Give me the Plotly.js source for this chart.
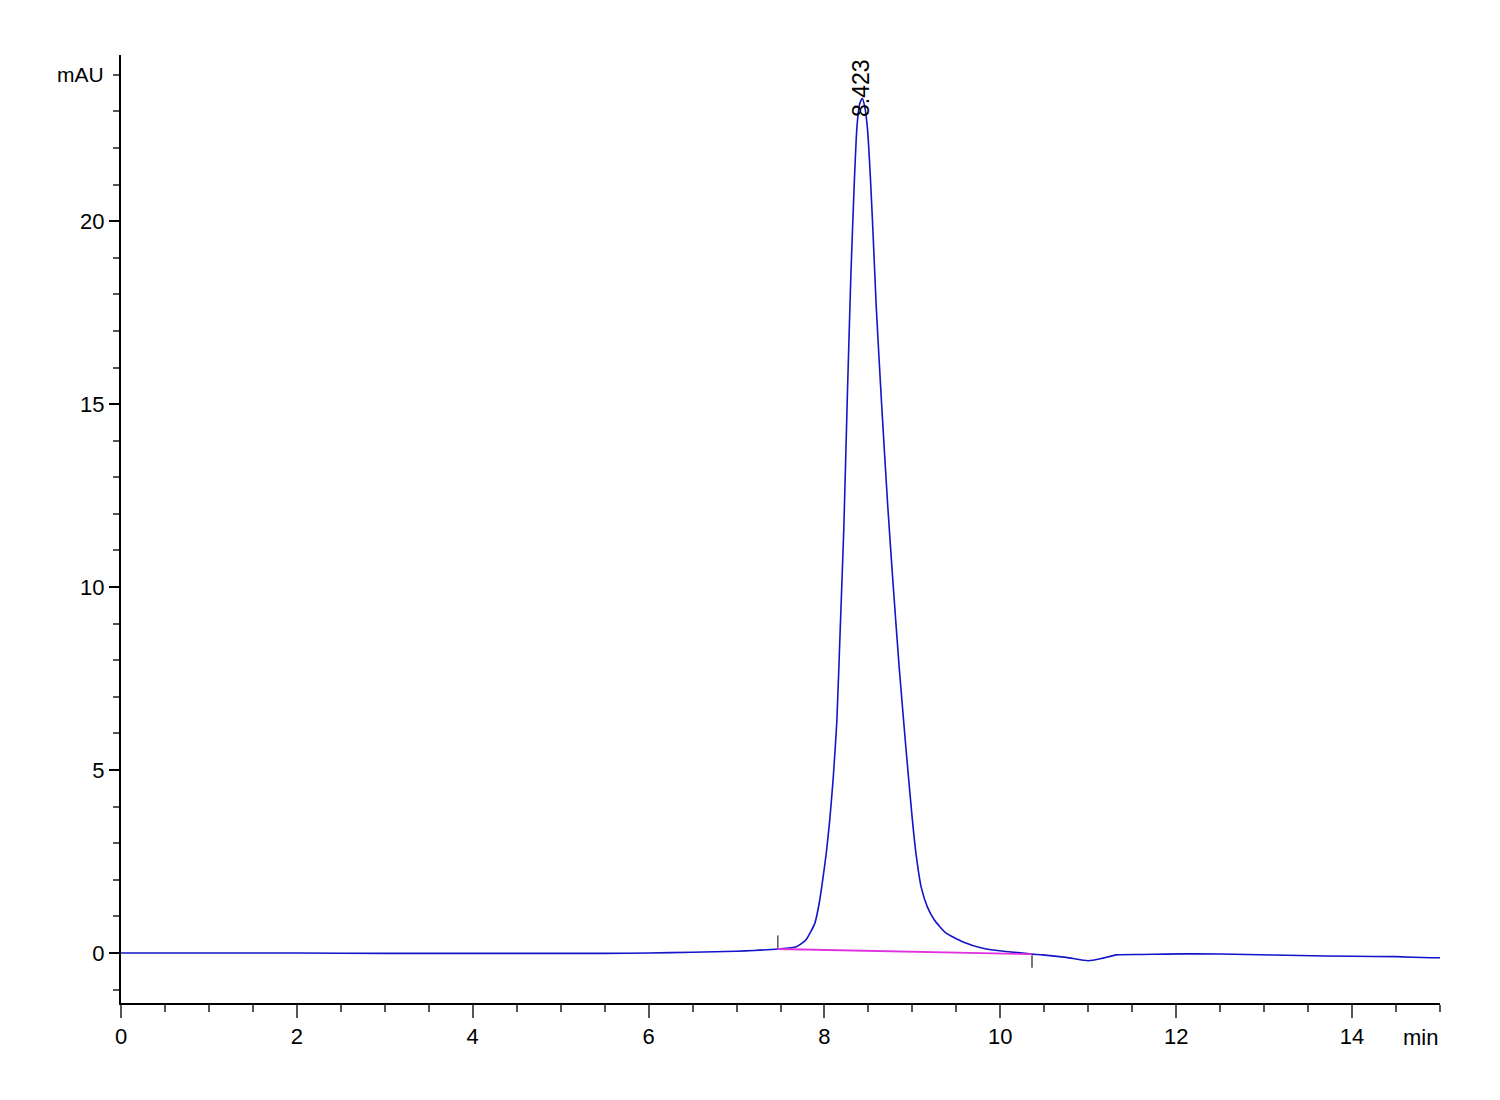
<!DOCTYPE html>
<html>
<head>
<meta charset="utf-8">
<script src="https://cdn.plot.ly/plotly-3.0.1.min.js"></script>
<style>html,body{margin:0;padding:0;background:#fff;}#chart{width:1500px;height:1100px;}</style>
</head>
<body>
<div id="chart"></div>
<script>
// Retention time (min)
const timeMin = [0, 1, 2, 3, 4, 5, 5.5, 6, 6.5, 7, 7.2, 7.47, 7.68, 7.79, 7.89, 7.94, 7.98, 8.02, 8.06, 8.10, 8.14, 8.18, 8.22, 8.26, 8.30, 8.34, 8.37, 8.40, 8.43, 8.46, 8.49, 8.52, 8.55, 8.59, 8.65, 8.72, 8.78, 8.85, 8.93, 9.0, 9.04, 9.10, 9.17, 9.25, 9.38, 9.57, 9.80, 10.06, 10.2, 10.36, 10.48, 10.75, 11.0, 11.15, 11.32, 11.6, 11.89, 12.2, 12.8, 13.4, 14.0, 14.5, 14.9, 15.0];
// Absorbance (mAU)
const signalMAU = [0, 0, 0, -0.01, -0.01, -0.01, -0.01, 0.0, 0.02, 0.05, 0.07, 0.11, 0.17, 0.36, 0.81, 1.36, 2.0, 2.72, 3.63, 4.8, 6.3, 8.9, 11.6, 15.2, 18.5, 21.1, 22.6, 23.2, 23.36, 23.1, 22.5, 21.3, 19.8, 17.6, 15.0, 12.2, 10.1, 7.8, 5.5, 3.63, 2.73, 1.80, 1.26, 0.90, 0.55, 0.31, 0.13, 0.04, 0.01, -0.03, -0.05, -0.12, -0.21, -0.15, -0.05, -0.04, -0.03, -0.02, -0.04, -0.07, -0.09, -0.1, -0.13, -0.13];
// Integration baseline (start, end)
const baseTime = [7.47, 10.36];
const baseMAU = [0.11, -0.03];
// Peak label
const peakTime = [8.423];
const peakLabel = ["8.423"];
const peakLabelY = [23.63];
// Axis ticks
const xTicks = [0, 2, 4, 6, 8, 10, 12, 14];
const yTicks = [0, 5, 10, 15, 20];

const regular = "Liberation Sans, Arial, sans-serif";

const traces = [
  {
    x: timeMin, y: signalMAU, type: 'scatter', mode: 'lines',
    line: {color: '#1414c8', width: 1.6, shape: 'spline', smoothing: 0.5}, hoverinfo: 'skip'
  },
  {
    x: baseTime, y: baseMAU, type: 'scatter', mode: 'lines',
    line: {color: '#e030e0', width: 1.8}, hoverinfo: 'skip'
  },
  {
    x: [baseTime[0]], y: [baseMAU[0] + 0.2], type: 'scatter', mode: 'markers',
    marker: {symbol: 'line-ns', size: 9, line: {color: '#000', width: 1}}, hoverinfo: 'skip'
  },
  {
    x: [baseTime[1]], y: [baseMAU[1] - 0.2], type: 'scatter', mode: 'markers',
    marker: {symbol: 'line-ns', size: 9, line: {color: '#777', width: 2}}, hoverinfo: 'skip'
  }
];

const layout = {
  width: 1500, height: 1100,
  paper_bgcolor: '#fff', plot_bgcolor: '#fff',
  showlegend: false,
  margin: {l: 121, r: 60, t: 55, b: 97},
  xaxis: {
    range: [0, 15], tickvals: xTicks, ticktext: xTicks.map(String),
    ticks: 'outside', ticklen: 13, tickwidth: 2, tickcolor: '#555',
    minor: {dtick: 0.5, tick0: 0, ticks: 'outside', ticklen: 7, tickwidth: 2, tickcolor: '#555'},
    showline: true, linecolor: '#000', linewidth: 2,
    showgrid: false, zeroline: false,
    tickfont: {family: regular, size: 22, color: '#000'}
  },
  yaxis: {
    range: [-1.366, 24.54], tickvals: yTicks, ticktext: yTicks.map(String),
    ticks: 'outside', ticklen: 10, tickwidth: 2, tickcolor: '#000',
    minor: {dtick: 1, tick0: 0, ticks: 'outside', ticklen: 6, tickwidth: 2, tickcolor: '#555'},
    showline: true, linecolor: '#000', linewidth: 2,
    showgrid: false, zeroline: false,
    tickfont: {family: regular, size: 22, color: '#000'}
  },
  annotations: [
    {
      x: peakTime[0], y: peakLabelY[0], xref: 'x', yref: 'y',
      text: peakLabel[0], textangle: -90, showarrow: false,
      xanchor: 'center', yanchor: 'middle',
      font: {family: regular, size: 23, color: '#000'}
    },
    {
      x: 0, y: 24, xref: 'paper', yref: 'y', text: 'mAU', showarrow: false,
      xanchor: 'right', yanchor: 'middle', xshift: -15,
      font: {family: regular, size: 21, color: '#000'}
    },
    {
      x: 15, y: 0, xref: 'x', yref: 'paper', text: 'min', showarrow: false,
      xanchor: 'right', yanchor: 'top', yshift: -20,
      font: {family: regular, size: 22, color: '#000'}
    }
  ]
};

Plotly.newPlot('chart', traces, layout, {displayModeBar: false, staticPlot: true});
</script>
</body>
</html>
